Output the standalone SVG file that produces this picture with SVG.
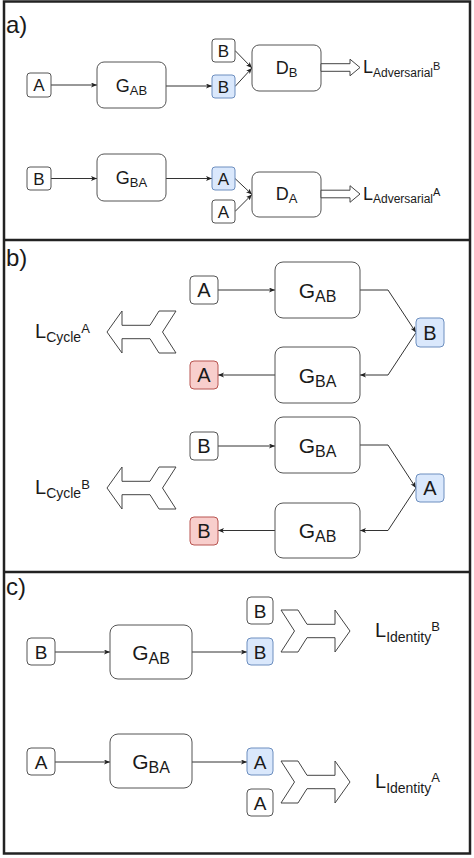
<svg xmlns="http://www.w3.org/2000/svg" width="474" height="858" viewBox="0 0 474 858">
<style>
  text { font-family: "Liberation Sans", Arial, sans-serif; fill: #1a1a1a; }
  .panel { font-size: 24px; }
  .box { fill: #ffffff; stroke: #555555; stroke-width: 1; }
  .blue { fill: #dae8fc; stroke: #6c8ebf; stroke-width: 1; }
  .red { fill: #f8cecc; stroke: #b85450; stroke-width: 1; }
  .lbl { text-anchor: middle; }
  .s16 { font-size: 17px; }
  .s19 { font-size: 19px; }
  .conn path { fill: none; stroke: #333333; stroke-width: 1; marker-end: url(#ah); }
  .hollow { fill: #ffffff; stroke: #444444; stroke-width: 1; }
</style>
<defs>
  <marker id="ah" markerUnits="userSpaceOnUse" markerWidth="7" markerHeight="6" refX="6" refY="2.5" orient="auto">
    <path d="M0,0 L6,2.5 L0,5 L1.5,2.5 Z" fill="#222222"/>
  </marker>
  <polygon id="chev" points="0,-21 17,-21 26,-6.7 54,-6.7 54,-21 69,0 54,21 54,6.7 26,6.7 17,21 0,21 13.5,0"/>
  <polygon id="harrow" points="0,-3.8 29,-3.8 29,-8.3 39,0 29,8.3 29,3.8 0,3.8"/>
</defs>

<g id="frame" fill="none" stroke="#222222" stroke-width="2.5">
  <rect x="4" y="1.5" width="466" height="852"/>
  <line x1="4" y1="240" x2="470" y2="240"/>
  <line x1="4" y1="572" x2="470" y2="572"/>
</g>
<text class="panel" x="6" y="33">a)</text>
<text class="panel" x="6" y="266">b)</text>
<text class="panel" x="6" y="595">c)</text>

<g class="conn">
  <path d="M51,85 H97"/>
  <path d="M166,86 H212"/>
  <path d="M235,50.5 L252,68"/>
  <path d="M235,86.5 L252,68"/>
  <path d="M51,178.5 H97"/>
  <path d="M166,178.5 H212"/>
  <path d="M235,178.5 L252,194.5"/>
  <path d="M235,211.5 L252,194.5"/>

  <path d="M218,290 H275"/>
  <path d="M360,290 H388 L416,332.5"/>
  <path d="M416,332.5 L388,375 H360"/>
  <path d="M275,375 H218"/>
  <path d="M218,446 H275"/>
  <path d="M360,445 H388 L416,488"/>
  <path d="M416,488 L388,530.5 H360"/>
  <path d="M275,530.5 H218"/>

  <path d="M55,652 H110"/>
  <path d="M192,652 H247"/>
  <path d="M55,762 H110"/>
  <path d="M192,762 H247"/>
</g>

<!-- Panel a -->
<g id="a_inA"><rect class="box" x="27" y="73" width="24" height="24" rx="3"/><text class="lbl s16" x="39" y="91">A</text></g>
<g id="a_Gab"><rect class="box" x="97" y="62" width="69" height="46" rx="7"/><text class="lbl" x="131.5" y="91.5" font-size="18">G<tspan font-size="13" dy="3">AB</tspan></text></g>
<g id="a_Btop"><rect class="box" x="212" y="39" width="23" height="23" rx="3"/><text class="lbl s16" x="223.5" y="56.5">B</text></g>
<g id="a_Bblue"><rect class="blue" x="212" y="75" width="23" height="23" rx="3"/><text class="lbl s16" x="223.5" y="92.5">B</text></g>
<g id="a_Db"><rect class="box" x="252" y="45" width="69" height="46" rx="7"/><text class="lbl" x="286.5" y="74" font-size="18">D<tspan font-size="13" dy="3">B</tspan></text></g>
<g id="a_LadvB"><use href="#harrow" class="hollow" transform="translate(321,67.5)"/><text x="363" y="73" font-size="18">L<tspan font-size="12" dy="3.5">Adversarial</tspan><tspan font-size="11" dy="-7">B</tspan></text></g>

<g id="a_inB"><rect class="box" x="27" y="167" width="24" height="23" rx="3"/><text class="lbl s16" x="39" y="184.5">B</text></g>
<g id="a_Gba"><rect class="box" x="97" y="154" width="69" height="47" rx="7"/><text class="lbl" x="131.5" y="183.5" font-size="18">G<tspan font-size="13" dy="3">BA</tspan></text></g>
<g id="a_Ablue"><rect class="blue" x="212" y="167" width="23" height="23" rx="3"/><text class="lbl s16" x="223.5" y="184.5">A</text></g>
<g id="a_Abot"><rect class="box" x="212" y="200" width="23" height="23" rx="3"/><text class="lbl s16" x="223.5" y="217.5">A</text></g>
<g id="a_Da"><rect class="box" x="252" y="172" width="69" height="45" rx="7"/><text class="lbl" x="286.5" y="200" font-size="18">D<tspan font-size="13" dy="3">A</tspan></text></g>
<g id="a_LadvA"><use href="#harrow" class="hollow" transform="translate(321,194)"/><text x="363" y="199.5" font-size="18">L<tspan font-size="12" dy="3.5">Adversarial</tspan><tspan font-size="11" dy="-7">A</tspan></text></g>

<!-- Panel b -->
<g id="b_inA"><rect class="box" x="190" y="276" width="28" height="28" rx="4"/><text class="lbl" x="204" y="297" font-size="20">A</text></g>
<g id="b_Gab"><rect class="box" x="275" y="262" width="85" height="56" rx="8"/><text class="lbl" x="317.5" y="297.5" font-size="21">G<tspan font-size="16" dy="4">AB</tspan></text></g>
<g id="b_Bblue"><rect class="blue" x="416" y="318" width="28" height="29" rx="4"/><text class="lbl" x="430" y="339.5" font-size="20">B</text></g>
<g id="b_Gba"><rect class="box" x="275" y="347" width="85" height="56" rx="8"/><text class="lbl" x="317.5" y="382.5" font-size="21">G<tspan font-size="16" dy="4">BA</tspan></text></g>
<g id="b_Ared"><rect class="red" x="190" y="361" width="28" height="28" rx="4"/><text class="lbl" x="204" y="382" font-size="20">A</text></g>
<g id="b_LcycA"><use href="#chev" class="hollow" transform="translate(176,332) scale(-1,1)"/><text x="35" y="338" font-size="20">L<tspan font-size="14" dy="4">Cycle</tspan><tspan font-size="13" dy="-9">A</tspan></text></g>

<g id="b_inB"><rect class="box" x="190" y="432" width="28" height="28" rx="4"/><text class="lbl" x="204" y="453" font-size="20">B</text></g>
<g id="b_Gba2"><rect class="box" x="275" y="417" width="85" height="56" rx="8"/><text class="lbl" x="317.5" y="452.5" font-size="21">G<tspan font-size="16" dy="4">BA</tspan></text></g>
<g id="b_Ablue"><rect class="blue" x="416" y="474" width="28" height="28" rx="4"/><text class="lbl" x="430" y="495" font-size="20">A</text></g>
<g id="b_Gab2"><rect class="box" x="275" y="503" width="85" height="55" rx="8"/><text class="lbl" x="317.5" y="538" font-size="21">G<tspan font-size="16" dy="4">AB</tspan></text></g>
<g id="b_Bred"><rect class="red" x="190" y="517" width="28" height="28" rx="4"/><text class="lbl" x="204" y="538" font-size="20">B</text></g>
<g id="b_LcycB"><use href="#chev" class="hollow" transform="translate(176,488) scale(-1,1)"/><text x="35" y="494" font-size="20">L<tspan font-size="14" dy="4">Cycle</tspan><tspan font-size="13" dy="-9">B</tspan></text></g>

<!-- Panel c -->
<g id="c_inB"><rect class="box" x="27" y="638" width="28" height="27" rx="4"/><text class="lbl s19" x="41" y="658.5">B</text></g>
<g id="c_Gab"><rect class="box" x="110" y="625" width="82" height="54" rx="8"/><text class="lbl" x="151" y="659.5" font-size="21">G<tspan font-size="16" dy="4">AB</tspan></text></g>
<g id="c_Btop"><rect class="box" x="247" y="597" width="26" height="27" rx="4"/><text class="lbl s19" x="260" y="617.5">B</text></g>
<g id="c_Bblue"><rect class="blue" x="247" y="638" width="26" height="27" rx="4"/><text class="lbl s19" x="260" y="658.5">B</text></g>
<g id="c_LidB"><use href="#chev" class="hollow" transform="translate(281,631)"/><text x="375" y="637" font-size="20">L<tspan font-size="14" dy="5">Identity</tspan><tspan font-size="13" dy="-11">B</tspan></text></g>

<g id="c_inA"><rect class="box" x="27" y="748" width="28" height="27" rx="4"/><text class="lbl s19" x="41" y="768.5">A</text></g>
<g id="c_Gba"><rect class="box" x="110" y="734" width="82" height="54" rx="8"/><text class="lbl" x="151" y="768.5" font-size="21">G<tspan font-size="16" dy="4">BA</tspan></text></g>
<g id="c_Ablue"><rect class="blue" x="247" y="748" width="26" height="27" rx="4"/><text class="lbl s19" x="260" y="768.5">A</text></g>
<g id="c_Abot"><rect class="box" x="247" y="789" width="26" height="27" rx="4"/><text class="lbl s19" x="260" y="809.5">A</text></g>
<g id="c_LidA"><use href="#chev" class="hollow" transform="translate(281,782)"/><text x="375" y="788" font-size="20">L<tspan font-size="14" dy="5">Identity</tspan><tspan font-size="13" dy="-11">A</tspan></text></g>
</svg>
